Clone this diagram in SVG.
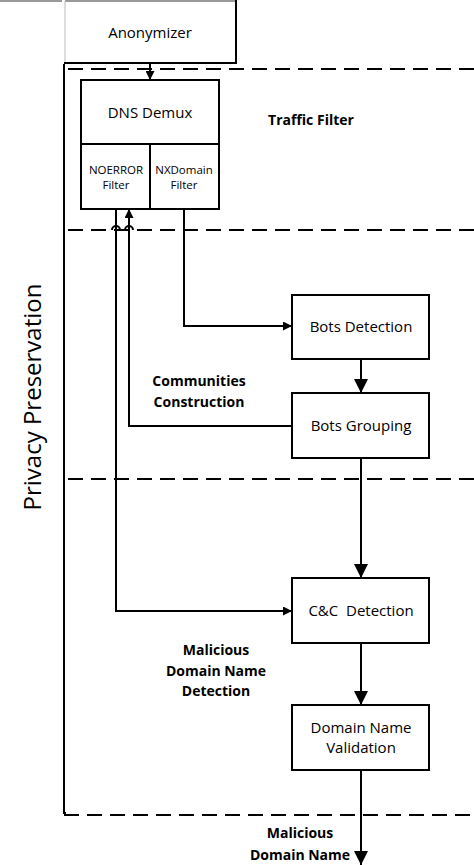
<svg xmlns="http://www.w3.org/2000/svg" width="474" height="865" viewBox="0 0 474 865">
<style>
.box{fill:#fff;stroke:#000;stroke-width:2}
.ln{fill:none;stroke:#000;stroke-width:2}
.dash{fill:none;stroke:#000;stroke-width:2;stroke-dasharray:15 8}
.t{font-family:"Open Sans","Liberation Sans",sans-serif;font-size:15px;fill:#000;text-anchor:middle}
.s{font-size:11.5px}
.b{font-weight:bold;font-size:14px}
</style>
<defs>
<marker id="ah" viewBox="0 0 10 10" refX="10" refY="5" markerWidth="9" markerHeight="9" orient="auto" markerUnits="userSpaceOnUse"><path d="M0,0 L10,5 L0,10 z" fill="#000"/></marker>
<marker id="ahs" viewBox="0 0 10 10" refX="10" refY="5" markerWidth="14" markerHeight="14" orient="auto" markerUnits="userSpaceOnUse"><path d="M0,0 L10,5 L0,10 z" fill="#000"/></marker>
</defs>
<rect width="474" height="865" fill="#fff"/>
<g id="privacy">
<line x1="0" y1="1" x2="62" y2="1" stroke="#999" stroke-width="2"/>
<path d="M64,64 V813 H66" class="ln"/>
<text class="t" transform="translate(41,397) rotate(-90)" style="font-size:24px">Privacy Preservation</text>
</g>
<g id="sections">
<line x1="68" y1="69" x2="474" y2="69" class="dash"/>
<line x1="68" y1="230" x2="474" y2="230" class="dash"/>
<line x1="68" y1="479" x2="474" y2="479" class="dash"/>
<line x1="64" y1="815" x2="474" y2="815" class="dash"/>
<path d="M112,230 a4,4 0 0 1 8,0 M125,230 a4,4 0 0 1 8,0" class="ln" stroke-width="1.5"/>
<text class="t b" x="311" y="125">Traffic Filter</text>
<text class="t b" x="199" y="386">Communities</text>
<text class="t b" x="199" y="407">Construction</text>
<text class="t b" x="216" y="655">Malicious</text>
<text class="t b" x="216" y="676">Domain Name</text>
<text class="t b" x="216" y="696">Detection</text>
<text class="t b" x="300" y="838">Malicious</text>
<text class="t b" x="300" y="860">Domain Name</text>
</g>
<g id="anonymizer">
<path d="M65,1 H236" stroke="#999" stroke-width="2" fill="none"/>
<line x1="65" y1="1" x2="65" y2="63" stroke="#bbb" stroke-width="1"/>
<path d="M236,0 V63 H64" class="ln"/>
<text class="t" x="150" y="38">Anonymizer</text>
</g>
<g id="dns-demux">
<rect x="81" y="80" width="138" height="129" class="box"/>
<line x1="81" y1="144" x2="219" y2="144" stroke="#000" stroke-width="2"/>
<line x1="150" y1="144" x2="150" y2="209" stroke="#000" stroke-width="2"/>
<text class="t" x="150" y="118">DNS Demux</text>
<text class="t s" x="116" y="174">NOERROR</text>
<text class="t s" x="116" y="189">Filter</text>
<text class="t s" x="184" y="174">NXDomain</text>
<text class="t s" x="184" y="189">Filter</text>
</g>
<g id="bots-detection">
<rect x="292" y="295" width="137" height="64" class="box"/>
<text class="t" x="361" y="332">Bots Detection</text>
</g>
<g id="bots-grouping">
<rect x="292" y="393" width="137" height="65" class="box"/>
<text class="t" x="361" y="431">Bots Grouping</text>
</g>
<g id="cc-detection">
<rect x="292" y="578" width="137" height="65" class="box"/>
<text class="t" x="361" y="616" xml:space="preserve">C&amp;C  Detection</text>
</g>
<g id="domain-validation">
<rect x="292" y="705" width="137" height="65" class="box"/>
<text class="t" x="361" y="733">Domain Name</text>
<text class="t" x="361" y="753">Validation</text>
</g>
<g id="connectors">
<line x1="150" y1="63" x2="150" y2="80" class="ln" marker-end="url(#ah)"/>
<path d="M116,209 V611 H292" class="ln" marker-end="url(#ah)"/>
<path d="M292,426 H129 V209" class="ln" marker-end="url(#ah)"/>
<path d="M184,209 V326 H292" class="ln" marker-end="url(#ah)"/>
<line x1="361" y1="359" x2="361" y2="393" class="ln" marker-end="url(#ahs)"/>
<line x1="361" y1="458" x2="361" y2="578" class="ln" marker-end="url(#ahs)"/>
<line x1="361" y1="643" x2="361" y2="705" class="ln" marker-end="url(#ahs)"/>
<line x1="361" y1="770" x2="361" y2="865" class="ln" stroke-width="3" marker-end="url(#ahs)"/>
</g>
</svg>
